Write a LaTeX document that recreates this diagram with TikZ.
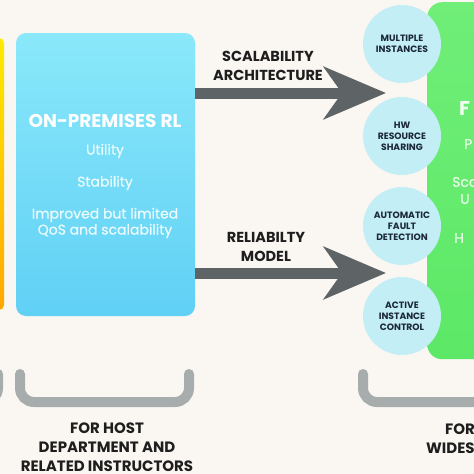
\documentclass[tikz,border=0pt]{standalone}
\usepackage{fontspec}
\setmainfont{Poppins}
\usetikzlibrary{arrows.meta,shapes.geometric}
\definecolor{bg}{HTML}{FAF7F2}
\definecolor{bluetop}{HTML}{8AE8FA}
\definecolor{bluebot}{HTML}{60D0F5}
\definecolor{arrowgrey}{HTML}{5E6466}
\definecolor{labeldark}{HTML}{1E1E1E}
\definecolor{bubblecol}{HTML}{C3EEF6}
\definecolor{bubbletext}{HTML}{1B2838}
\definecolor{greentop}{HTML}{70EE78}
\definecolor{greenbot}{HTML}{5CE866}
\definecolor{bracketgrey}{HTML}{A7ACAC}
\definecolor{yeltop}{HTML}{FFEA00}
\definecolor{yelbot}{HTML}{FFA800}
\tikzset{
  bluebox/.style={rectangle, rounded corners=10pt, minimum width=179pt, minimum height=283pt, inner sep=0pt, top color=bluetop, bottom color=bluebot, draw=none},
  greenbox/.style={rectangle, rounded corners=15pt, minimum width=110pt, minimum height=357pt, inner sep=0pt, top color=greentop, bottom color=greenbot, draw=none},
  boxtitle/.style={text=white, font=\bfseries\fontsize{18.5}{20}\selectfont, inner sep=0pt},
  boxtext/.style={text=white!82!bluetop, font=\fontsize{14}{16}\selectfont\addfontfeature{FakeBold=0.8}, align=center, inner sep=0pt},
  greentitle/.style={text=white!90!greentop, font=\bfseries\fontsize{20}{20}\selectfont, inner sep=0pt, anchor=west},
  greentext/.style={text=white!82!greentop, font=\fontsize{14}{16}\selectfont\addfontfeature{FakeBold=0.8}, inner sep=0pt, anchor=west},
  bubble/.style={circle, minimum size=78pt, inner sep=0pt, fill=bubblecol, text=bubbletext, align=center, font=\bfseries\fontsize{9.2}{11}\selectfont},
  arrowlabel/.style={text=labeldark, align=center, font=\bfseries\fontsize{14.5}{19}\selectfont, inner sep=0pt},
  bottomlabel/.style={text=labeldark, align=center, font=\bfseries\fontsize{15}{19}\selectfont, inner sep=0pt},
  bigarrow/.style={draw=arrowgrey, line width=11pt, -{Stealth[length=62pt, width=52pt, inset=18pt, fill=arrowgrey]}},
  bracket/.style={draw=bracketgrey, line width=10pt, line cap=round, rounded corners=14pt}
}
\begin{document}
\begin{tikzpicture}[x=1pt,y=-1pt]
\useasboundingbox (0,0) rectangle (474,474);
\clip (0,0) rectangle (474,474);
\fill[bg] (0,0) rectangle (474,474);
% left yellow strip
\shade[top color=yeltop, bottom color=yelbot, rounded corners=5pt] (-12,38) rectangle (4,310);
% blue box
\node[bluebox] (onprem) at (105.5,174.5) {};
\node[boxtitle] (optitle) at (105,121) {ON-PREMISES RL};
\node[boxtext] (opu) at (105,151) {Utility};
\node[boxtext] (ops) at (105,183) {Stability};
\node[boxtext] (opq) at (105,223) {Improved but limited\\QoS and scalability};
% green box
\node[greenbox, anchor=north west] (fed) at (427,2) {};
\node[greentitle] (gt) at (459,108) {F};
\node[greentext] (g1) at (464,144) {P};
\node[greentext] (g2) at (452,182) {Sca};
\node[greentext] (g3) at (460,199) {U};
\node[greentext] (g4) at (454,238) {H};
% bubbles
\node[bubble] (c1) at (402,44) {MULTIPLE\\INSTANCES};
\node[bubble] (c2) at (402,136) {HW\\RESOURCE\\SHARING};
\node[bubble] (c3) at (402,226) {AUTOMATIC\\FAULT\\DETECTION};
\node[bubble] (c4) at (402,316) {ACTIVE\\INSTANCE\\CONTROL};
% arrows
\coordinate (tip1) at (386,93);
\coordinate (tip2) at (386,273);
\draw[bigarrow] (onprem.east |- tip1) -- (tip1);
\draw[bigarrow] (onprem.east |- tip2) -- (tip2);
\node[arrowlabel] (l1) at (268,66) {SCALABILITY\\ARCHITECTURE};
\node[arrowlabel] (l2) at (266,247) {RELIABILTY\\MODEL};
% brackets
\draw[bracket] (-40,374) -- (-40,402) -- (-2,402) -- (-2,374);
\draw[bracket] (20,374) -- (20,402) -- (189,402) -- (189,374);
\draw[bracket] (363,374) -- (363,402) -- (500,402) -- (500,374);
% bottom labels
\node[bottomlabel] (b1) at (107,447) {FOR HOST\\DEPARTMENT AND\\RELATED INSTRUCTORS};
\node[bottomlabel, anchor=west] (b2) at (445,429) {FOR};
\node[bottomlabel, anchor=west] (b3) at (426,448) {WIDES};
\end{tikzpicture}
\end{document}
